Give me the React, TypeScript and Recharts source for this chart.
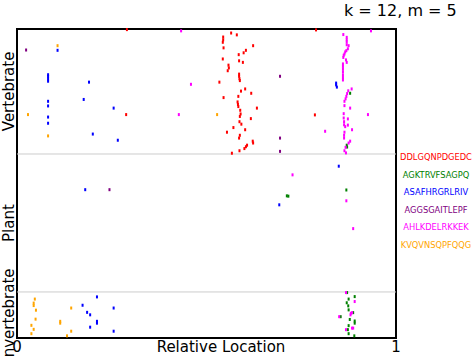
import React from 'react';
import { ScatterChart, Scatter, XAxis, YAxis, ReferenceLine, ReferenceArea, Legend } from 'recharts';

const FONT = '"DejaVu Sans", sans-serif';

const groups = ['Vertebrate', 'Plant', 'Invertebrate'];
const groupCenters = [20.2, 62.8, 92.6];
const groupBounds = [40.45, 85.1];
const xTicks = [0, 1];

const motifs = ['DDLGQNPDGEDC', 'AGKTRVFSAGPQ', 'ASAFHRGRLRIV', 'AGGSGAITLEPF', 'AHLKDELRKKEK', 'KVQVNSQPFQQG'];
const colors = ['#ff0000', '#008000', '#0000ff', '#800080', '#ff00ff', '#ffa500'];

// [relative location, row position]
const redPts: number[][] = [
  [0.290, 0.2], [0.288, 27.7], [0.789, 0.3], [0.786, 27.8],
  [0.565, 1.3], [0.580, 1.9], [0.544, 2.6], [0.544, 3.5], [0.543, 4.3], [0.545, 6.1],
  [0.623, 5.4], [0.604, 6.9], [0.598, 7.7], [0.585, 8.3], [0.586, 10.3], [0.543, 9.7],
  [0.596, 10.8], [0.558, 11.7], [0.559, 12.6], [0.556, 13.5], [0.586, 14.6], [0.586, 15.3],
  [0.587, 16.1], [0.588, 16.7], [0.534, 17.2], [0.602, 19.4], [0.591, 20.1], [0.618, 20.8],
  [0.545, 22.2], [0.584, 21.8], [0.582, 23.6], [0.583, 24.4], [0.584, 25.1], [0.589, 26.3],
  [0.633, 25.6], [0.590, 27.5], [0.588, 28.3], [0.617, 29.0], [0.587, 30.0], [0.592, 30.8],
  [0.571, 31.9], [0.602, 32.6], [0.554, 33.4], [0.588, 34.4], [0.586, 35.3], [0.622, 36.3],
  [0.623, 36.9], [0.607, 37.6], [0.604, 38.1], [0.600, 38.7], [0.587, 39.4], [0.567, 40.2],
];

const greenPts: number[][] = [
  [0.879, 20.8], [0.870, 37.6], [0.871, 38.2],
  [0.712, 54.0], [0.716, 54.1], [0.869, 52.1],
  [0.871, 85.3], [0.891, 86.6], [0.875, 87.4], [0.870, 88.6], [0.874, 89.6], [0.875, 90.9],
  [0.887, 91.8], [0.854, 93.1], [0.878, 94.0], [0.891, 94.5], [0.891, 95.2], [0.875, 96.0],
  [0.873, 97.3], [0.875, 98.6], [0.890, 99.3],
];

const bluePts: number[][] = [
  [0.107, 6.9], [0.082, 14.8], [0.082, 15.4], [0.082, 16.2], [0.082, 16.9], [0.190, 17.2],
  [0.176, 22.8], [0.082, 23.4], [0.082, 24.9], [0.255, 25.6], [0.082, 28.5], [0.082, 30.5],
  [0.200, 34.0], [0.266, 36.0], [0.842, 17.5], [0.842, 18.1], [0.844, 18.8],
  [0.180, 52.0], [0.692, 56.9], [0.849, 44.4],
  [0.211, 86.7], [0.173, 89.4], [0.255, 90.3], [0.185, 91.7], [0.193, 92.5], [0.211, 94.6],
  [0.211, 95.2], [0.193, 96.5], [0.255, 97.8],
];

const purplePts: number[][] = [
  [0.024, 6.8], [0.694, 15.3], [0.694, 35.3], [0.694, 39.6], [0.244, 52.0],
];

const magentaPts: number[][] = [
  [0.433, 0.6], [0.934, 0.6], [0.459, 17.9], [0.427, 27.7], [0.926, 27.7], [0.813, 33.1],
  [0.861, 1.8], [0.870, 2.7], [0.870, 3.5], [0.870, 4.2], [0.870, 5.1], [0.875, 5.4],
  [0.873, 6.4], [0.869, 7.0], [0.866, 7.4], [0.864, 8.1], [0.862, 8.5], [0.861, 9.2],
  [0.868, 10.0], [0.870, 10.8], [0.860, 11.3], [0.860, 12.1], [0.860, 12.9], [0.860, 13.8],
  [0.860, 14.8], [0.860, 15.7], [0.860, 16.5], [0.883, 19.4], [0.874, 20.0], [0.871, 20.9],
  [0.869, 21.8], [0.867, 22.6], [0.864, 23.4], [0.864, 24.8], [0.879, 25.6], [0.862, 27.4],
  [0.862, 28.8], [0.873, 29.1], [0.863, 30.0], [0.863, 31.0], [0.873, 31.1], [0.866, 31.6],
  [0.884, 32.6], [0.864, 33.4], [0.863, 34.4], [0.863, 35.3], [0.879, 36.3], [0.875, 36.9],
  [0.867, 38.3], [0.864, 39.4], [0.868, 40.1],
  [0.727, 47.2], [0.869, 55.6], [0.887, 64.6],
  [0.868, 85.3], [0.891, 88.2], [0.881, 92.0], [0.884, 91.8], [0.880, 92.5], [0.850, 93.1],
  [0.884, 96.8], [0.887, 96.8], [0.868, 97.3],
];

const orangePts: number[][] = [
  [0.107, 5.4], [0.029, 27.7], [0.082, 34.6], [0.528, 27.7],
  [0.047, 87.4], [0.044, 88.7], [0.044, 89.5], [0.050, 91.0], [0.049, 93.9], [0.038, 95.9],
  [0.044, 97.2], [0.038, 98.6], [0.143, 90.3], [0.114, 94.6], [0.114, 95.2], [0.143, 97.8],
  [0.132, 99.3],
];

const seriesPts = [redPts, greenPts, bluePts, purplePts, magentaPts, orangePts];

const toData = (pts: number[][]) => pts.map(([x, y]) => ({ x, y }));

const Dash = (props: any) => {
  const { cx, cy, fill } = props;
  if (cx == null || cy == null) return null;
  return <rect x={cx - 1} y={cy - 1.5} width={2} height={3} fill={fill} />;
};

const YTick = (props: any) => {
  const { y, payload } = props;
  const idx = groupCenters.indexOf(payload.value);
  const label = idx >= 0 ? groups[idx] : '';
  return (
    <text
      x={9}
      y={y}
      transform={`rotate(-90, 9, ${y})`}
      textAnchor="middle"
      dominantBaseline="central"
      fontSize={15}
      fontFamily={FONT}
      fill="#000"
    >
      {label}
    </text>
  );
};

const LegendContent = (props: any) => {
  const payload = [...(props.payload || [])].sort(
    (a: any, b: any) => motifs.indexOf(a.value) - motifs.indexOf(b.value)
  );
  return (
    <div style={{ fontFamily: FONT, textAlign: 'center' }}>
      {payload.map((e: any, i: number) => (
        <div key={i} style={{ color: e.color, fontSize: 8.3, lineHeight: '17.6px', whiteSpace: 'nowrap' }}>
          {e.value}
        </div>
      ))}
    </div>
  );
};

export default function App() {
  return (
    <div style={{ position: 'absolute', left: 0, top: 0, width: 474, height: 356, background: '#fff', fontFamily: FONT }}>
      <div
        style={{
          position: 'absolute',
          left: 344,
          top: 3,
          fontSize: 16,
          lineHeight: '16px',
          whiteSpace: 'nowrap',
          color: '#000',
          fontFamily: FONT,
        }}
      >
        k = 12, m = 5
      </div>
      <ScatterChart width={474} height={356} margin={{ top: 29, right: 78, bottom: 0, left: 0 }}>
        <XAxis
          type="number"
          dataKey="x"
          domain={[0, 1]}
          ticks={xTicks}
          height={18}
          axisLine={false}
          tickLine={false}
          tickSize={0}
          tickMargin={3}
          tick={{ fontSize: 15, fill: '#000', fontFamily: FONT }}
          label={{
            value: 'Relative Location',
            content: () => (
              <text x={221} y={352} textAnchor="middle" fontSize={15} fontFamily={FONT} fill="#000">
                Relative Location
              </text>
            ),
          }}
        />
        <YAxis
          type="number"
          dataKey="y"
          domain={[0, 100]}
          reversed
          ticks={groupCenters}
          width={17}
          axisLine={false}
          tickLine={false}
          tick={<YTick />}
          interval={0}
        />
        <ReferenceLine y={groupBounds[0]} stroke="#cccccc" strokeWidth={1} />
        <ReferenceLine y={groupBounds[1]} stroke="#cccccc" strokeWidth={1} />
        <ReferenceArea x1={0} x2={1} y1={0} y2={100} fill="none" fillOpacity={0} stroke="#000" strokeWidth={2} ifOverflow="visible" />
        {seriesPts.map((pts, i) => (
          <Scatter
            key={motifs[i]}
            name={motifs[i]}
            data={toData(pts)}
            fill={colors[i]}
            shape={<Dash />}
            isAnimationActive={false}
          />
        ))}
        <Legend
          layout="vertical"
          align="center"
          verticalAlign="middle"
          content={<LegendContent />}
          wrapperStyle={{ left: 398, top: 149, width: 76, right: 'auto', bottom: 'auto' }}
        />
      </ScatterChart>
    </div>
  );
}
